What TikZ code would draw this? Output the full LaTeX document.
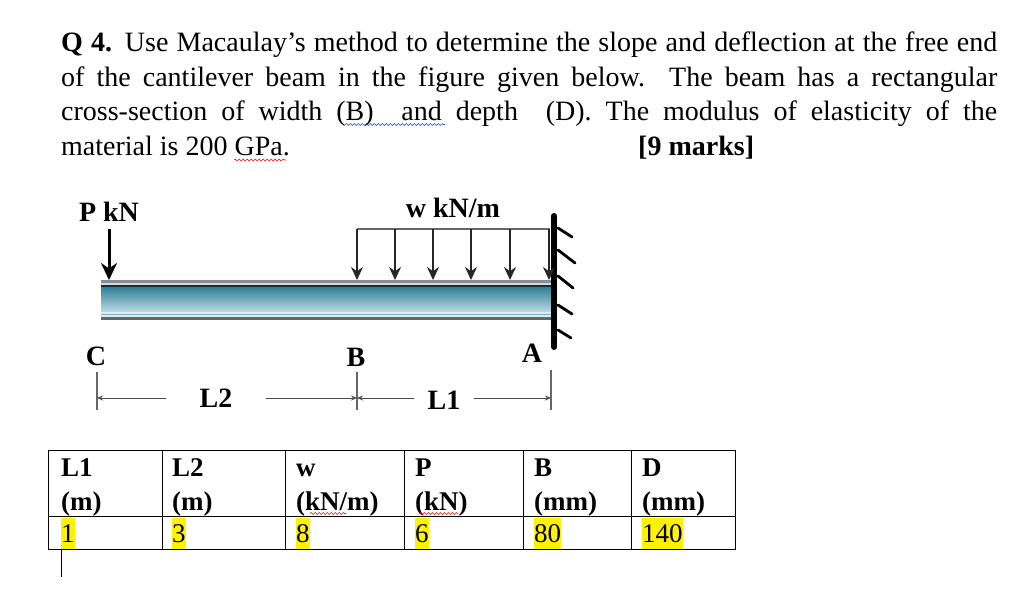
\documentclass[tikz,border=0pt]{standalone}
\usepackage{fontspec}
\setmainfont{Liberation Serif}
\usetikzlibrary{arrows.meta,decorations.pathmorphing}
\definecolor{beamtop}{RGB}{48,128,152}
\definecolor{beambottom}{RGB}{190,218,228}
\definecolor{beamlight}{RGB}{190,225,240}
\tikzset{
    bodytext/.style={anchor=base west, inner sep=0pt, font=\fontsize{28}{28}\selectfont},
    labeltext/.style={inner sep=0pt, font=\fontsize{28}{28}\selectfont\bfseries},
    headtext/.style={anchor=base west, inner sep=0pt, font=\fontsize{27}{27}\selectfont\bfseries},
    valuetext/.style={anchor=base west, inner xsep=0pt, inner ysep=0pt, fill=yellow, text height=24pt, text depth=8pt, font=\fontsize{27}{27}\selectfont},
    loadarrow/.style={-{Stealth[length=13pt,width=12pt]}, line width=1.6pt, draw=black!85},
    dimarrow/.style={-{Stealth[length=6pt,width=5pt]}, line width=0.9pt, draw=black!70},
    tickline/.style={line width=1.2pt, draw=black!60},
    spellred/.style={draw=red, line width=0.6pt, decorate, decoration={snake, amplitude=0.9pt, segment length=4pt}},
    spellblue/.style={draw=blue!70!cyan, line width=0.6pt, decorate, decoration={snake, amplitude=0.9pt, segment length=4pt}},
}
\begin{document}
\begin{tikzpicture}[x=1pt,y=-1pt]
        \useasboundingbox (0, 0) rectangle (1035, 589);
        %question text
        \node[bodytext] (lineone) at (61, 51) {\makebox[936pt][s]{\textbf{Q 4.} Use Macaulay’s method to determine the slope and deflection at the free end}};
        \node[bodytext] (linetwo) at (61, 86) {\makebox[936pt][s]{of the cantilever beam in the figure given below.\ \ The beam has a rectangular}};
        \node[bodytext] (linethree) at (61, 120) {\makebox[936pt][s]{cross-section of width (B)\ \ and depth\ \ (D). The modulus of elasticity of the}};
        \node[bodytext] (linefour) at (61, 155) {material is 200 GPa.};
        \node[bodytext, font=\fontsize{28}{28}\selectfont\bfseries] (marks) at (638, 155) {[9 marks]};
        %spelling marks
        \draw[spellblue] (345, 124.5) -- (445, 124.5);
        \draw[spellred] (234, 160) -- (286, 160);
        %beam
        \fill[black!45] (101, 279.5) rectangle (554, 283);
        \fill[beamlight] (101, 283) rectangle (554, 285);
        \fill[black!85] (101, 285) rectangle (554, 287);
        \shade[top color=beamtop, bottom color=beambottom] (101, 287) rectangle (554, 312);
        \fill[beamlight!60!white] (101, 312) rectangle (554, 317);
        \fill[beamtop!60!white] (101, 313.5) rectangle (554, 314.5);
        \fill[black!60] (101, 317) rectangle (554, 320);
        %wall
        \draw[line width=6pt, line cap=round] (554, 216) coordinate (walltop) -- (554, 347) coordinate (wallbottom);
        \foreach \ya/\xb/\yb in {228/572/237, 250/575/263, 276/573/288, 305/572/314, 330/571/338}
            \draw[line width=2.8pt, line cap=round] (558, \ya) -- (\xb, \yb);
        %point load
        \node[labeltext] (pload) at (109, 212) {P kN};
        \coordinate (ptop) at (109, 229);
        \coordinate (pend) at (109, 280);
        \draw[-{Stealth[length=17pt,width=16pt]}, line width=3pt] (ptop) -- (pend);
        %distributed load
        \node[labeltext] (wload) at (453, 208) {w kN/m};
        \coordinate (wleft) at (357, 229);
        \coordinate (wright) at (550, 229);
        \draw[line width=1.2pt, draw=black!60] (wleft) -- (wright);
        \foreach \x in {357, 395, 433, 471, 510, 549}
            \draw[loadarrow] (\x, 229) -- (\x, 280);
        %point labels
        \node[labeltext] (labelc) at (96, 356) {C};
        \node[labeltext] (labelb) at (356, 357) {B};
        \node[labeltext] (labela) at (532, 353) {A};
        %dimension ticks
        \draw[tickline] (97, 372) coordinate (tickc) -- (97, 410);
        \draw[tickline] (357, 372) coordinate (tickb) -- (357, 410);
        \draw[tickline] (551, 370) coordinate (ticka) -- (551, 410);
        \coordinate (dimc) at (97, 398);
        \coordinate (dimb) at (357, 398);
        \coordinate (dima) at (551, 398);
        %dimension labels
        \node[labeltext, inner xsep=33pt] (dimtwo) at (216, 398) {L2};
        \node[labeltext, inner xsep=13pt] (dimone) at (444, 400) {L1};
        \draw[dimarrow] (dimtwo.west |- dimc) -- (dimc);
        \draw[dimarrow] (dimtwo.east |- dimc) -- (dimb);
        \draw[dimarrow] (dimone.west |- dimc) -- (dimb);
        \draw[dimarrow] (dimone.east |- dimc) -- (dima);
        %highlighted values, drawn below the table lines
        \foreach \x/\val in {61/1, 172/3, 296/8, 415/6, 534/80, 642/140}
            \node[valuetext] (value\val) at (\x, 542) {\val};
        %table
        \draw[line width=0.9pt] (48, 450) coordinate (tabletl) rectangle (735, 549) coordinate (tablebr);
        \draw[line width=0.9pt] (48, 516) -- (735, 516);
        \foreach \x in {162, 285, 404, 523, 631}
            \draw[line width=0.9pt] (\x, 450) -- (\x, 549);
        %table head
        \foreach \x/\name/\unit in {61/L1/(m), 172/L2/(m), 296/w/(kN\slash m), 415/P/(kN), 534/B/(mm), 642/D/(mm)} {
            \node[headtext] (head\name) at (\x, 476) {\name};
            \node[headtext] (unit\name) at (\x, 510) {\unit};
        }
        \draw[spellred] (310, 513.5) -- (346, 513.5);
        \draw[spellred] (419, 513.5) -- (458, 513.5);
        %cursor stem
        \draw[line width=1pt] (61, 550) coordinate (stemtop) -- (61, 577) coordinate (stembottom);
    \end{tikzpicture}
\end{document}
